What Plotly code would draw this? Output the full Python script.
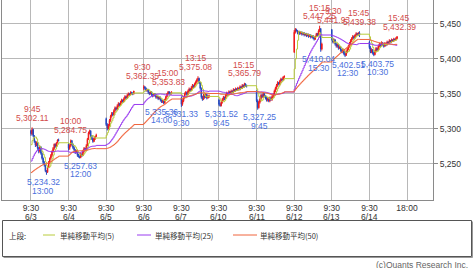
import plotly.graph_objects as go
import pandas as pd

# ---------------- data ----------------
DAYS = ["6/3", "6/4", "6/5", "6/6", "6/7", "6/10", "6/11", "6/12", "6/13", "6/14"]
BAR_TIMES = ["9:30", "9:45", "10:00", "10:15", "10:30", "10:45", "11:00", "11:15", "11:30", "11:45",
             "12:00", "12:15", "12:30", "12:45", "13:00", "13:15", "13:30", "13:45", "14:00", "14:15",
             "14:30", "14:45", "15:00", "15:15", "15:30", "15:45"]
TICK_TIME = "9:30"
END_LABEL = "18:00"

OPEN = [
    5297.2, 5293, 5299, 5290, 5282, 5277, 5280, 5272, 5268, 5274, 5265, 5258, 5252, 5248, 5240, 5238, 5245, 5252, 5258, 5262, 5268, 5272, 5278, 5275, 5280, 5284,
    5278.2, 5272, 5276, 5283, 5278, 5273, 5270, 5266, 5268, 5262, 5260, 5259, 5264, 5262, 5268, 5272, 5270, 5276, 5285, 5294, 5297, 5290, 5286, 5282, 5286, 5289,
    5314.5, 5306, 5300, 5305, 5312, 5318, 5322, 5320, 5326, 5330, 5328, 5333, 5336, 5334, 5338, 5341, 5339, 5343, 5346, 5344, 5348, 5350, 5349, 5352, 5351, 5350,
    5357.8, 5360, 5358, 5355, 5356, 5352, 5350, 5353, 5349, 5347, 5350, 5348, 5345, 5346, 5343, 5345, 5341, 5339, 5340, 5337, 5342, 5346, 5350, 5353, 5351, 5350,
    5343.8, 5335, 5340, 5345, 5350, 5352, 5349, 5354, 5357, 5355, 5359, 5362, 5360, 5364, 5367, 5370, 5372, 5366, 5358, 5345, 5342, 5348, 5345, 5349, 5344, 5346,
    5341.2, 5335, 5333, 5338, 5342, 5345, 5343, 5348, 5351, 5349, 5353, 5350, 5354, 5352, 5356, 5354, 5357, 5355, 5358, 5356, 5360, 5358, 5362, 5360, 5364, 5361,
    5353, 5340, 5330, 5338, 5343, 5348, 5346, 5350, 5347, 5344, 5341, 5343, 5340, 5344, 5342, 5346, 5349, 5354, 5358, 5362, 5366, 5364, 5368, 5371, 5370, 5374,
    5409.13, 5438, 5442, 5440, 5437, 5439, 5436, 5438, 5435, 5437, 5434, 5436, 5433, 5435, 5432, 5434, 5431, 5433, 5430, 5428, 5432, 5436, 5434, 5440, 5443, 5414,
    5441.93, 5428, 5424, 5427, 5421, 5418, 5420, 5415, 5417, 5412, 5410, 5413, 5407, 5405, 5410, 5414, 5418, 5422, 5426, 5429, 5432, 5430, 5434, 5436, 5435, 5437,
    5424.08, 5416, 5410, 5413, 5408, 5406, 5411, 5415, 5413, 5418, 5421, 5419, 5423, 5420, 5418, 5422, 5420, 5424, 5422, 5426, 5424, 5427, 5425, 5428, 5427, 5429,
]
HIGH = [
    5298.5, 5302.11, 5300, 5291, 5283, 5282, 5281, 5274, 5276, 5275, 5266, 5259, 5254, 5249, 5241, 5247, 5254, 5259, 5264, 5269, 5274, 5279, 5279, 5281, 5285, 5286,
    5280, 5278, 5284.75, 5284, 5279, 5275, 5271, 5270, 5269, 5264, 5262, 5266, 5265, 5270, 5274, 5273, 5278, 5287, 5296, 5298.8, 5298, 5291, 5287, 5288, 5290, 5293,
    5316, 5308, 5307, 5314, 5320, 5324, 5324, 5328, 5332, 5331, 5335, 5338, 5337, 5340, 5343, 5342, 5345, 5348, 5347, 5350, 5352, 5351, 5353.5, 5353, 5352, 5354.16,
    5362.35, 5361, 5359, 5357, 5357, 5353, 5354, 5354, 5350, 5351, 5351, 5349, 5347, 5347, 5346, 5346, 5342, 5341, 5341, 5343, 5347, 5351, 5353.83, 5353.5, 5352, 5353.5,
    5346, 5342, 5347, 5352, 5354, 5353, 5356, 5359, 5358, 5361, 5364, 5363, 5366, 5369, 5372, 5375.08, 5373, 5367, 5359, 5347, 5350, 5349, 5351, 5350, 5348, 5349,
    5343, 5337, 5340, 5344, 5347, 5346, 5350, 5353, 5352, 5355, 5354, 5356, 5355, 5358, 5357, 5359, 5358, 5360, 5359, 5362, 5361, 5364, 5363, 5365.79, 5365, 5363,
    5355, 5342, 5340, 5345, 5350, 5350, 5352, 5351, 5348, 5346, 5345, 5345, 5346, 5346, 5348, 5351, 5356, 5360, 5364, 5368, 5367, 5370, 5373, 5372, 5375, 5375.95,
    5441, 5444, 5443, 5441, 5440, 5440, 5439, 5439, 5438, 5438, 5437, 5437, 5436, 5436, 5435, 5435, 5434, 5434, 5431, 5433, 5437, 5437, 5442, 5447.25, 5444, 5423,
    5441.93, 5430, 5429, 5428, 5423, 5422, 5421, 5418, 5418, 5414, 5415, 5414, 5409, 5412, 5416, 5420, 5424, 5428, 5431, 5434, 5433, 5435, 5438, 5437, 5438, 5439.38,
    5426, 5418, 5415, 5414, 5410, 5413, 5417, 5416, 5420, 5423, 5422, 5425, 5424, 5421, 5424, 5423, 5426, 5425, 5428, 5427, 5429, 5428, 5430, 5429, 5431, 5432.39,
]
LOW = [
    5290, 5291, 5288, 5280, 5274, 5275, 5270, 5265, 5266, 5263, 5256, 5250, 5246, 5238, 5234.32, 5237, 5244, 5250, 5256, 5260, 5266, 5270, 5273, 5274, 5279, 5282,
    5269, 5270, 5274, 5276, 5271, 5268, 5264, 5265, 5260, 5259, 5257.63, 5258, 5260, 5261, 5266, 5268, 5269, 5275, 5284, 5292, 5288, 5284, 5280, 5281, 5284, 5288,
    5304, 5297.64, 5299, 5303, 5310, 5316, 5318, 5319, 5324, 5326, 5327, 5331, 5332, 5333, 5336, 5337, 5338, 5341, 5342, 5343, 5347, 5347, 5348, 5349, 5348, 5349,
    5355, 5356, 5353, 5353, 5350, 5348, 5349, 5347, 5345, 5346, 5346, 5343, 5343, 5341, 5342, 5339, 5337, 5337, 5335.36, 5336, 5341, 5345, 5349, 5349, 5348, 5349,
    5331.33, 5333, 5338, 5343, 5348, 5347, 5348, 5352, 5353, 5354, 5357, 5358, 5359, 5362, 5365, 5368, 5364, 5356, 5343, 5340, 5341, 5343, 5344, 5342, 5343, 5344,
    5333, 5331.52, 5332, 5336, 5340, 5341, 5342, 5346, 5347, 5348, 5349, 5349, 5351, 5351, 5353, 5353, 5354, 5354, 5355, 5355, 5357, 5357, 5359, 5359, 5360, 5359,
    5338, 5327.25, 5329, 5336, 5341, 5344, 5344, 5345, 5342, 5339, 5339, 5338, 5338, 5340, 5340, 5344, 5347, 5352, 5356, 5360, 5362, 5362, 5366, 5368, 5369, 5372,
    5409.13, 5436, 5439, 5435, 5436, 5434, 5435, 5433, 5434, 5432, 5433, 5431, 5432, 5430, 5431, 5429, 5430, 5428, 5426, 5427, 5431, 5432, 5433, 5438, 5410.04, 5412,
    5426, 5422, 5422, 5419, 5416, 5416, 5413, 5414, 5410, 5408, 5408, 5405, 5402.51, 5404, 5408, 5412, 5416, 5420, 5424, 5427, 5428, 5429, 5432, 5433, 5433, 5431,
    5414, 5408, 5408, 5406, 5403.75, 5405, 5409, 5411, 5412, 5416, 5417, 5418, 5418, 5416, 5417, 5418, 5419, 5421, 5421, 5423, 5423, 5424, 5424, 5426, 5426, 5428,
]
CLOSE = [
    5293, 5299, 5290, 5282, 5277, 5280, 5272, 5268, 5274, 5265, 5258, 5252, 5248, 5240, 5238, 5245, 5252, 5258, 5262, 5268, 5272, 5278, 5275, 5280, 5284, 5283.4,
    5272, 5276, 5283, 5278, 5273, 5270, 5266, 5268, 5262, 5260, 5259, 5264, 5262, 5268, 5272, 5270, 5276, 5285, 5294, 5297, 5290, 5286, 5282, 5286, 5289, 5291.3,
    5306, 5300, 5305, 5312, 5318, 5322, 5320, 5326, 5330, 5328, 5333, 5336, 5334, 5338, 5341, 5339, 5343, 5346, 5344, 5348, 5350, 5349, 5352, 5351, 5350, 5354.03,
    5360, 5358, 5355, 5356, 5352, 5350, 5353, 5349, 5347, 5350, 5348, 5345, 5346, 5343, 5345, 5341, 5339, 5340, 5337, 5342, 5346, 5350, 5353, 5351, 5350, 5352.96,
    5335, 5340, 5345, 5350, 5352, 5349, 5354, 5357, 5355, 5359, 5362, 5360, 5364, 5367, 5370, 5372, 5366, 5358, 5345, 5342, 5348, 5345, 5349, 5344, 5346, 5347,
    5335, 5333, 5338, 5342, 5345, 5343, 5348, 5351, 5349, 5353, 5350, 5354, 5352, 5356, 5354, 5357, 5355, 5358, 5356, 5360, 5358, 5362, 5360, 5364, 5361, 5360.8,
    5340, 5330, 5338, 5343, 5348, 5346, 5350, 5347, 5344, 5341, 5343, 5340, 5344, 5342, 5346, 5349, 5354, 5358, 5362, 5366, 5364, 5368, 5371, 5370, 5374, 5375.3,
    5438, 5442, 5440, 5437, 5439, 5436, 5438, 5435, 5437, 5434, 5436, 5433, 5435, 5432, 5434, 5431, 5433, 5430, 5428, 5432, 5436, 5434, 5440, 5443, 5414, 5421.03,
    5428, 5424, 5427, 5421, 5418, 5420, 5415, 5417, 5412, 5410, 5413, 5407, 5405, 5410, 5414, 5418, 5422, 5426, 5429, 5432, 5430, 5434, 5436, 5435, 5437, 5433.74,
    5416, 5410, 5413, 5408, 5406, 5411, 5415, 5413, 5418, 5421, 5419, 5423, 5420, 5418, 5422, 5420, 5424, 5422, 5426, 5424, 5427, 5425, 5428, 5427, 5429, 5431.6,
]
# closes of the bars before the visible window (estimated so the averages start where the picture shows)
PRIOR_CLOSES = [
    5230, 5228, 5225, 5222, 5224, 5220, 5218, 5221, 5217, 5215, 5218, 5214, 5216, 5219, 5221, 5218, 5220, 5216, 5214, 5217, 5220, 5222, 5225,
    5240, 5225, 5210, 5200, 5205, 5215, 5230, 5245, 5250, 5255, 5258, 5256, 5260, 5262, 5259, 5263, 5265, 5262, 5266, 5268, 5265, 5268, 5270, 5272, 5274, 5277.5,
]
MA_PERIODS = [5, 25, 50]
MA_NAMES = ["単純移動平均(5)", "単純移動平均(25)", "単純移動平均(50)"]
LEGEND_PREFIX = "上段:"
Y_TICKS = [5250, 5300, 5350, 5400, 5450]
COPYRIGHT = "(c)Quants Research Inc."

# marked highs/lows: (day index, bar index, kind)
LABELS = [(0, 1, "H"), (1, 2, "H"), (0, 14, "L"), (1, 10, "L"), (3, 0, "H"), (3, 22, "H"), (3, 18, "L"),
          (4, 15, "H"), (4, 0, "L"), (5, 23, "H"), (5, 1, "L"), (6, 1, "L"), (7, 23, "H"), (8, 0, "H"),
          (8, 25, "H"), (7, 24, "L"), (8, 12, "L"), (9, 4, "L"), (9, 25, "H")]

# ---------------- styles / layout ----------------
W, H = 474, 268
PL, PR, PT, PB = 2, 433, 0, 200          # plot area in pixels
SLOTS_PER_DAY = 34                       # 15-minute slots from 9:30 to 18:00
X_RANGE = [-26.2, 363.5]
Y_RANGE = [5198.3, 5484]
RED, BLUE = "#ee1a1a", "#2347c0"
MA_COLORS = ["#b9cc3c", "#9a3cf0", "#f0643c"]
LABEL_RED, LABEL_BLUE = "#d24b4b", "#4a6fdc"
GRID = "#b8b8b8"
FONT = "Liberation Sans, Arial, sans-serif"
CJK = "Noto Sans CJK JP, sans-serif"
LABEL_XSHIFT = [0, 0, -3, 1, -1, 0, -2, -2, 0, 0, 1, 2, 0, 2, 0, -2, 3, 4, 2]
DATE_ROW_Y = 216.5
LEG_Y = 235
LEG_LINES = [(43, 55), (137, 151), (233, 257)]
LEG_TEXT_X = [58, 153, 258]

NB = len(BAR_TIMES)
n = len(CLOSE)
xpos = [(i // NB) * SLOTS_PER_DAY + (i % NB) for i in range(n)]

allc = pd.Series(PRIOR_CLOSES + CLOSE, dtype=float)
mas = [allc.rolling(p).mean().iloc[-n:].tolist() for p in MA_PERIODS]

fig = go.Figure()
fig.add_trace(go.Candlestick(
    x=xpos, open=OPEN, high=HIGH, low=LOW, close=CLOSE,
    increasing=dict(line=dict(color=RED, width=1), fillcolor=RED),
    decreasing=dict(line=dict(color=BLUE, width=1), fillcolor=BLUE),
    whiskerwidth=0, showlegend=False, hoverinfo="skip"))
for ma, col, name in zip(mas, MA_COLORS, MA_NAMES):
    fig.add_trace(go.Scatter(x=xpos, y=ma, mode="lines", name=name,
                             line=dict(color=col, width=1, shape="hv"), showlegend=False, hoverinfo="skip"))

ann = []
for (d, s, kind), xs in zip(LABELS, LABEL_XSHIFT):
    i = d * NB + s
    val = HIGH[i] if kind == "H" else LOW[i]
    col = LABEL_RED if kind == "H" else LABEL_BLUE
    sgn = 1 if kind == "H" else -1
    off_val = 9.5 if kind == "H" else 7.5
    off_time = 18 if kind == "H" else 16
    for txt, off in ((f"{val:,.2f}", off_val), (BAR_TIMES[s], off_time)):
        ann.append(dict(x=xpos[i], y=val, xref="x", yref="y", text=txt, showarrow=False,
                        xanchor="center", yanchor="middle", xshift=xs, yshift=sgn * off,
                        font=dict(family=FONT, size=8.5, color=col)))

def px_x(px):
    return (px - PL) / (PR - PL)

def px_y(py):
    return (PB - py) / (PB - PT)

tickvals = [d * SLOTS_PER_DAY for d in range(len(DAYS))] + [len(DAYS) * SLOTS_PER_DAY]
ticktext = [TICK_TIME for _ in DAYS] + [END_LABEL]
# second row of the time axis: the dates under each 9:30 tick
for tv, dlabel in zip(tickvals, DAYS):
    ann.append(dict(x=tv, y=px_y(DATE_ROW_Y), xref="x", yref="paper", text=dlabel, showarrow=False,
                    xanchor="center", yanchor="middle", font=dict(family=FONT, size=8.5, color="#333333")))

shapes = [
    dict(type="rect", xref="paper", yref="paper", x0=px_x(2.5), x1=px_x(471.5), y0=px_y(256.5), y1=px_y(220.5),
         line=dict(color="#555555", width=1)),
    dict(type="line", xref="paper", yref="paper", x0=px_x(472.5), x1=px_x(472.5), y0=px_y(257.5), y1=px_y(221.5),
         line=dict(color="#999999", width=1)),
    dict(type="line", xref="paper", yref="paper", x0=px_x(3.5), x1=px_x(472.5), y0=px_y(257.5), y1=px_y(257.5),
         line=dict(color="#999999", width=1)),
]
for (a, b), col in zip(LEG_LINES, MA_COLORS):
    shapes.append(dict(type="line", xref="paper", yref="paper", x0=px_x(a), x1=px_x(b),
                       y0=px_y(LEG_Y), y1=px_y(LEG_Y), line=dict(color=col, width=1)))
ann.append(dict(x=px_x(7), y=px_y(LEG_Y), xref="paper", yref="paper", text=LEGEND_PREFIX, showarrow=False,
                xanchor="left", yanchor="middle", font=dict(family=CJK, size=7.5, color="#333333")))
for tx, name in zip(LEG_TEXT_X, MA_NAMES):
    ann.append(dict(x=px_x(tx), y=px_y(LEG_Y), xref="paper", yref="paper", text=name, showarrow=False,
                    xanchor="left", yanchor="middle", font=dict(family=CJK, size=7.5, color="#333333")))
ann.append(dict(x=px_x(470), y=px_y(265), xref="paper", yref="paper", text=COPYRIGHT, showarrow=False,
                xanchor="right", yanchor="middle", font=dict(family=FONT, size=8.5, color="#666666")))

fig.update_layout(
    width=W, height=H, margin=dict(l=PL, r=W - PR, t=PT, b=H - PB),
    paper_bgcolor="white", plot_bgcolor="white", showlegend=False,
    annotations=ann, shapes=shapes,
    xaxis=dict(range=X_RANGE, tickvals=tickvals, ticktext=ticktext, showgrid=True, gridcolor=GRID,
               gridwidth=1, zeroline=False, showline=True, linecolor="#8a8a8a", mirror=True, ticks="",
               tickfont=dict(family=FONT, size=8.5, color="#333333"), rangeslider=dict(visible=False)),
    yaxis=dict(range=Y_RANGE, side="right", tickvals=Y_TICKS, tickformat=",", showgrid=True, gridcolor=GRID,
               gridwidth=1, zeroline=False, showline=True, linecolor="#8a8a8a", mirror=True,
               ticks="outside", ticklen=4, tickcolor="#8a8a8a",
               tickfont=dict(family=FONT, size=8.5, color="#333333")),
)
fig.write_html("out.html")
